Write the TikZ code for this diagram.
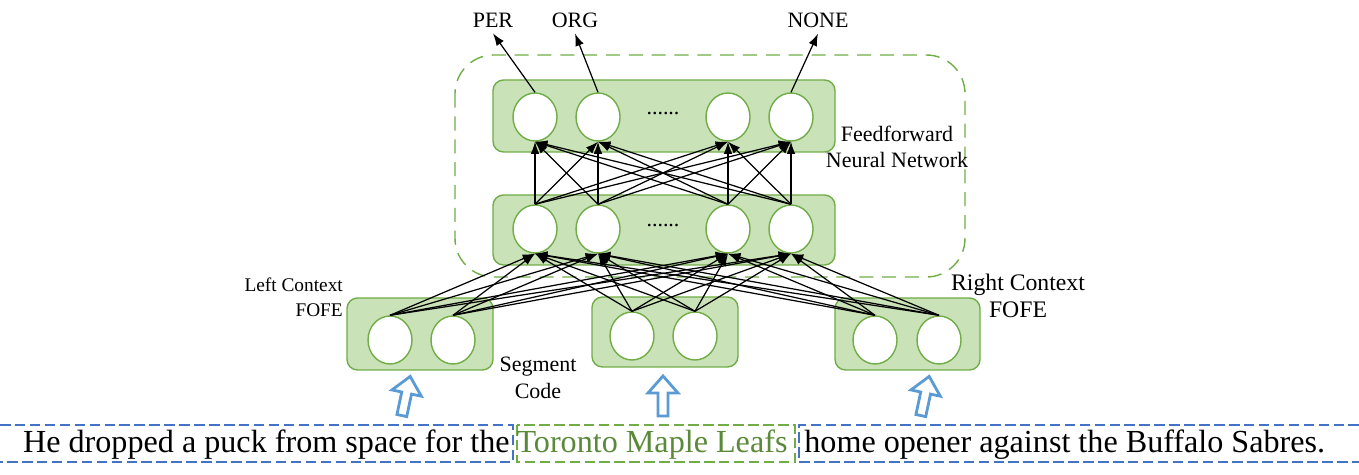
\documentclass[tikz,border=0pt]{standalone}
\usepackage{fontspec}
\setmainfont{Liberation Serif}
\usetikzlibrary{arrows.meta,shapes.geometric}
\definecolor{gfill}{HTML}{C9E2B8}
\definecolor{gline}{HTML}{70AD47}
\definecolor{bline}{HTML}{4472C4}
\definecolor{barrow}{HTML}{5B9BD5}
\begin{document}
\begin{tikzpicture}[x=0.02cm,y=-0.02cm,
  layer/.style={draw=gline,fill=gfill,rounded corners=6pt,line width=0.8pt},
  neuron/.style={ellipse,draw=gline,fill=white,line width=0.8pt,minimum width=0.88cm,minimum height=0.96cm,inner sep=0pt},
  conn/.style={-{Latex[length=7pt,width=5pt]},line width=0.7pt},
  lbl/.style={font=\fontsize{12.5}{15}\selectfont,align=center},
  harrow/.style={draw=barrow,fill=white,line width=1.6pt,line join=miter}]
\useasboundingbox (0,0) rectangle (1359,475);
% dashed FFNN box
\draw[gline,dashed,dash pattern=on 8pt off 5pt,line width=0.8pt,rounded corners=22pt] (455,55) rectangle (965,277);
% layer boxes
\draw[layer] (493,80) rectangle (835,152);
\draw[layer] (493,195) rectangle (835,265);
\draw[layer] (347,298) rectangle (493,370);
\draw[layer] (592,297) rectangle (738,367);
\draw[layer] (835,298) rectangle (980,370);
% neurons
\foreach \x [count=\i] in {535,598,728,791}{
  \node[neuron] (u\i) at (\x,117) {};
  \node[neuron] (h\i) at (\x,229) {};
}
\node[lbl] (d1) at (663,114) {......};
\node[lbl] (d2) at (663,226) {......};
\node[neuron] (l1) at (390,340) {};
\node[neuron] (l2) at (453,340) {};
\node[neuron] (s1) at (632,336) {};
\node[neuron] (s2) at (695,336) {};
\node[neuron] (r1) at (875,340) {};
\node[neuron] (r2) at (939,340) {};
% connections input -> hidden
\foreach \a in {l1,l2,s1,s2,r1,r2}{
  \foreach \b in {h1,h2,h3,h4}{
    \draw[conn] (\a.north) -- (\b.south);
  }
}
% hidden -> hidden
\foreach \a in {h1,h2,h3,h4}{
  \foreach \b in {u1,u2,u3,u4}{
    \draw[conn] (\a.north) -- (\b.south);
  }
}
% outputs
\node[lbl] (per) at (493,20) {PER};
\node[lbl] (org) at (575,20) {ORG};
\node[lbl] (none) at (818,20) {NONE};
\draw[conn] (u1.north) -- (per.south);
\draw[conn] (u2.north) -- (org.south);
\draw[conn] (u4.north) -- (none.south);
% labels
\node[lbl] (ffnn) at (897,147) {Feedforward\\Neural Network};
\node[font=\fontsize{11}{14}\selectfont,align=right,anchor=east] (lc) at (349,297) {Left Context\\FOFE};
\node[font=\fontsize{13.5}{15}\selectfont,align=center] (rc) at (1018,296) {Right Context\\FOFE};
\node[lbl] (sc) at (538,378) {Segment\\Code};
% hollow up arrows
\foreach \cx/\rot in {406/-12,663/0,925/-12}{
  \begin{scope}[shift={(\cx,396)},rotate=\rot]
    \draw[harrow] (-5,20) -- (-5,-3) -- (-15,-3) -- (0,-20) -- (15,-3) -- (5,-3) -- (5,20) -- cycle;
  \end{scope}
}
% sentence
\draw[bline,dashed,dash pattern=on 6pt off 2.5pt,line width=1.4pt] (0,425) -- (513,425) -- (513,462) -- (0,462);
\draw[bline,dashed,dash pattern=on 6pt off 2.5pt,line width=1.4pt] (1359,425) -- (799,425) -- (799,462) -- (1359,462);
\draw[gline,dashed,dash pattern=on 6pt off 2.5pt,line width=1.4pt] (517,425) rectangle (795,462);
\node[font=\fontsize{18.3}{20}\selectfont,anchor=east,inner sep=0pt] (t1) at (510,445) {He dropped a puck from space for the};
\node[font=\fontsize{18.3}{20}\selectfont,text=gline!80!black,inner sep=0pt] (t2) at (652,445) {Toronto Maple Leafs};
\node[font=\fontsize{18.3}{20}\selectfont,anchor=west,inner sep=0pt] (t3) at (804,445) {home opener against the Buffalo Sabres.};
\end{tikzpicture}
\end{document}
